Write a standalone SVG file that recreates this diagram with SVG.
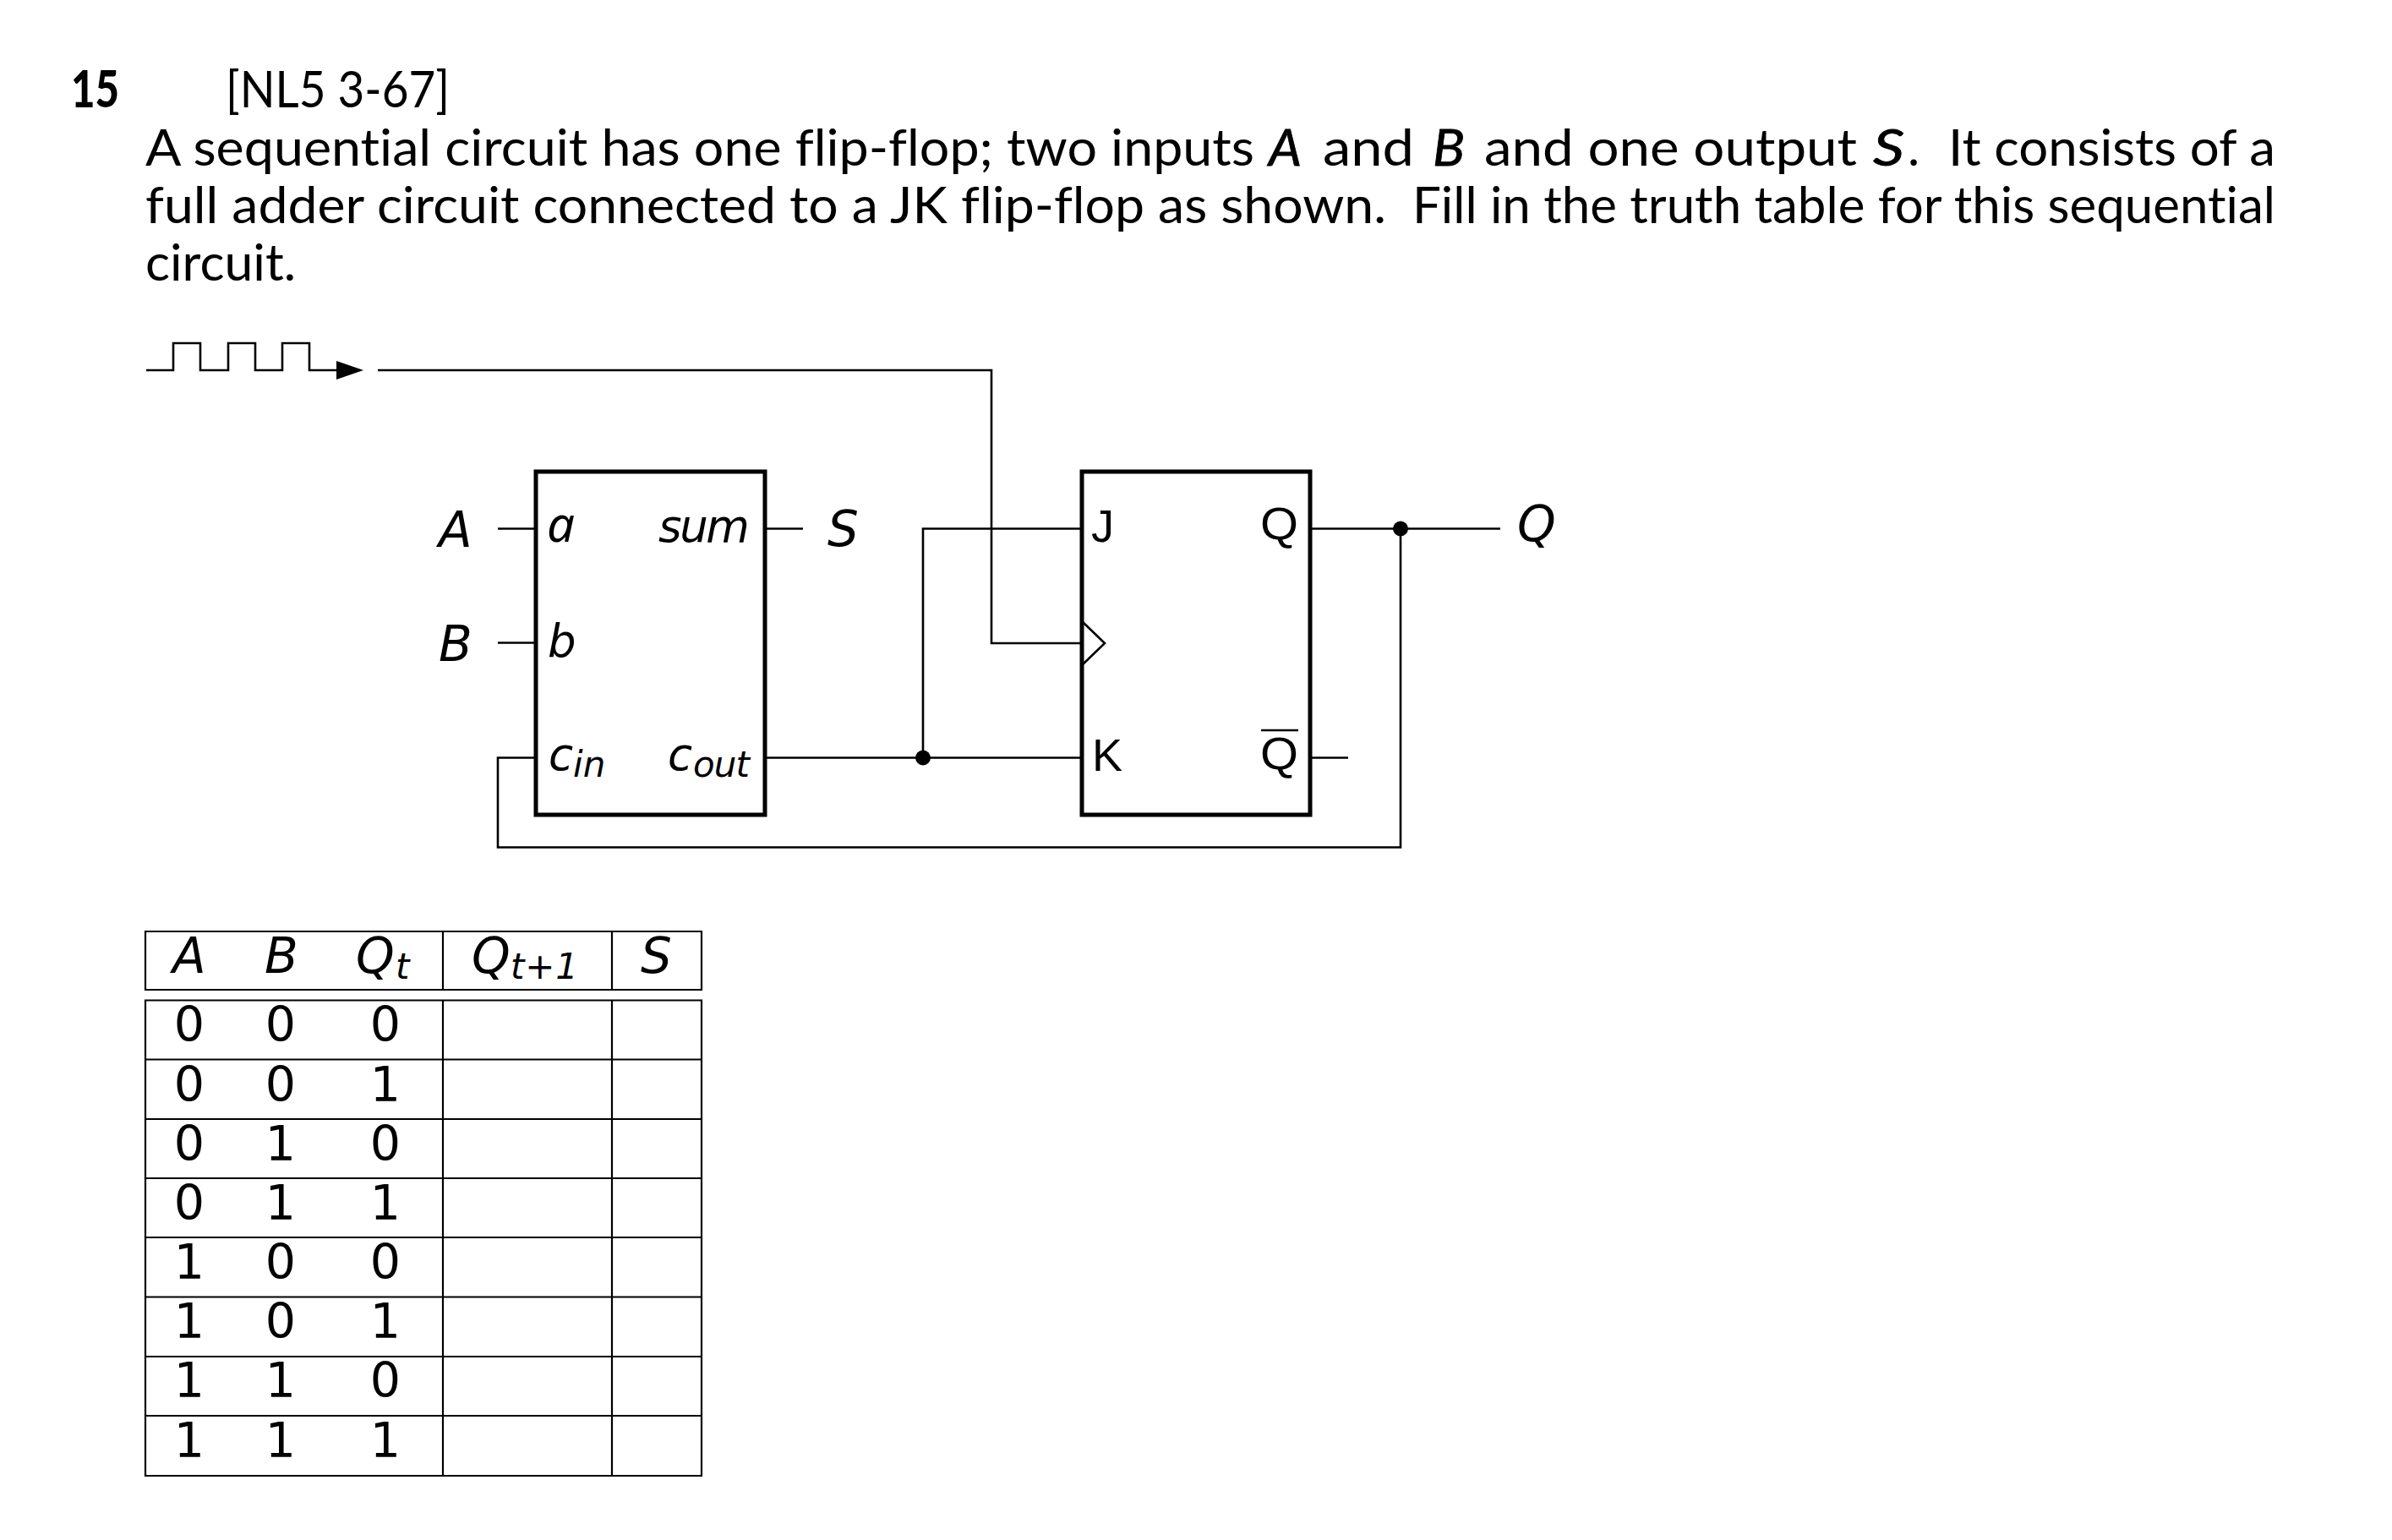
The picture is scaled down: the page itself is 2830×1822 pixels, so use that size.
<svg xmlns="http://www.w3.org/2000/svg" width="2830" height="1822" viewBox="0 0 2830 1822">
<style>
.b{font-family:"Lato","Liberation Sans",sans-serif;font-size:60px;fill:#000;font-variant-ligatures:none}
.h{font-family:"Lato","Liberation Sans",sans-serif;font-size:60px;font-weight:900;fill:#000}
.i{font-family:"Lato","Liberation Sans",sans-serif;font-size:60px;font-style:italic;fill:#000;stroke:#000;stroke-width:.8}
.o{font-family:"DejaVu Sans",sans-serif;font-style:italic;font-size:58px;fill:#000}
.l{font-family:"DejaVu Sans",sans-serif;font-style:italic;font-size:53px;fill:#000}
.n{font-family:"Noto Sans",sans-serif;font-style:italic;font-size:58px;fill:#000}
.s{font-family:"DejaVu Sans",sans-serif;font-style:italic;font-size:42px;fill:#000}
.p{font-family:"Liberation Sans",sans-serif;font-size:54px;fill:#000}
.d{font-family:"DejaVu Sans",sans-serif;font-size:57px;fill:#000;text-anchor:middle}
.w{fill:none;stroke:#000;stroke-width:2.6}
.box{fill:#fff;stroke:#000;stroke-width:5}
.t{fill:none;stroke:#000;stroke-width:2.2}
.j{fill:#000}
</style>
<g id="question-text">
<text class="h" x="84" y="127" textLength="57" lengthAdjust="spacingAndGlyphs">15</text>
<text class="b" x="267" y="127" textLength="265" lengthAdjust="spacingAndGlyphs">[NL5 3-67]</text>
<text class="b" x="172" y="196" textLength="1312" lengthAdjust="spacingAndGlyphs">A sequential circuit has one flip-flop; two inputs</text>
<text class="i" x="1501" y="196" textLength="39" lengthAdjust="spacingAndGlyphs">A</text>
<text class="b" x="1565" y="196" textLength="108" lengthAdjust="spacingAndGlyphs">and</text>
<text class="i" x="1695" y="196" textLength="38" lengthAdjust="spacingAndGlyphs">B</text>
<text class="b" x="1756" y="196" textLength="441" lengthAdjust="spacingAndGlyphs">and one output</text>
<text class="i" x="2216" y="196" textLength="37" lengthAdjust="spacingAndGlyphs">S</text>
<text class="b" x="2257" y="196">.</text>
<text class="b" x="2305" y="196" textLength="387" lengthAdjust="spacingAndGlyphs">It consists of a</text>
<text class="b" x="172" y="264" textLength="1468" lengthAdjust="spacingAndGlyphs">full adder circuit connected to a JK flip-flop as shown.</text>
<text class="b" x="1671" y="264" textLength="1021" lengthAdjust="spacingAndGlyphs">Fill in the truth table for this sequential</text>
<text class="b" x="172" y="332" textLength="178" lengthAdjust="spacingAndGlyphs">circuit.</text>
</g>
<g id="clock-symbol">
<path class="w" d="M173 438H205V406H237V438H270V406H302V438H334V406H366V438H400"/>
<path class="j" d="M398 427L430 438L398 449Z"/>
</g>
<g id="connectors">
<path class="w" d="M447 438H1173V761H1280"/>
<path class="w" d="M589 625.500H634"/>
<path class="w" d="M589 760.500H634"/>
<path class="w" d="M905 625.500H950"/>
<path class="w" d="M905 896.500H1280"/>
<path class="w" d="M1092 896.500V625.500H1280"/>
<path class="w" d="M634 896.500H589V1002.500H1657V625.500"/>
<path class="w" d="M1550 625.500H1775"/>
<path class="w" d="M1550 896.500H1595"/>
<circle class="j" cx="1092" cy="896.500" r="9"/>
<circle class="j" cx="1657" cy="625.500" r="9"/>
</g>
<g id="full-adder">
<rect class="box" x="634" y="558" width="271" height="406"/>
<text class="n" x="647" y="641">a</text>
<text class="l" x="779" y="641" textLength="108">sum</text>
<text class="l" x="648" y="777">b</text>
<text class="l" x="649" y="911">c</text>
<text class="s" x="678" y="919">in</text>
<text class="l" x="790" y="911">c</text>
<text class="s" x="820" y="919" textLength="67">out</text>
</g>
<g id="jk-flip-flop">
<rect class="box" x="1280" y="558" width="270" height="406"/>
<path class="w" d="M1280 735L1307 761L1280 787"/>
<text class="p" x="1291" y="641">J</text>
<text class="p" x="1292" y="912">K</text>
<text class="p" x="1491" y="638" textLength="45" lengthAdjust="spacingAndGlyphs">Q</text>
<text class="p" x="1491" y="910" textLength="45" lengthAdjust="spacingAndGlyphs">Q</text>
<path class="w" d="M1492 864H1536"/>
</g>
<g id="labels">
<text class="o" x="519" y="647">A</text>
<text class="o" x="519" y="782">B</text>
<text class="o" x="979" y="646">S</text>
<text class="o" x="1795" y="640">Q</text>
</g>
<g id="truth-table">
<path class="t" d="M172 1102H830V1171H172ZM524 1102V1171M724 1102V1171"/>
<path class="t" d="M172 1183.500H830V1746H172ZM524 1183.500V1746M724 1183.500V1746M172 1253.500H830M172 1324H830M172 1394H830M172 1464H830M172 1534.500H830M172 1605H830M172 1675H830"/>
<text class="o" x="204" y="1151">A</text>
<text class="o" x="313" y="1151">B</text>
<text class="o" x="421" y="1151">Q</text>
<text class="s" x="468" y="1158">t</text>
<text class="o" x="558" y="1151">Q</text>
<text class="s" x="604" y="1158" textLength="80">t+1</text>
<text class="o" x="758" y="1151">S</text>
<text class="d" x="224" y="1232">0</text><text class="d" x="332" y="1232">0</text><text class="d" x="456" y="1232">0</text>
<text class="d" x="224" y="1303">0</text><text class="d" x="332" y="1303">0</text><text class="d" x="456" y="1303">1</text>
<text class="d" x="224" y="1373">0</text><text class="d" x="332" y="1373">1</text><text class="d" x="456" y="1373">0</text>
<text class="d" x="224" y="1443">0</text><text class="d" x="332" y="1443">1</text><text class="d" x="456" y="1443">1</text>
<text class="d" x="224" y="1513">1</text><text class="d" x="332" y="1513">0</text><text class="d" x="456" y="1513">0</text>
<text class="d" x="224" y="1583">1</text><text class="d" x="332" y="1583">0</text><text class="d" x="456" y="1583">1</text>
<text class="d" x="224" y="1653">1</text><text class="d" x="332" y="1653">1</text><text class="d" x="456" y="1653">0</text>
<text class="d" x="224" y="1724">1</text><text class="d" x="332" y="1724">1</text><text class="d" x="456" y="1724">1</text>
</g>
</svg>
